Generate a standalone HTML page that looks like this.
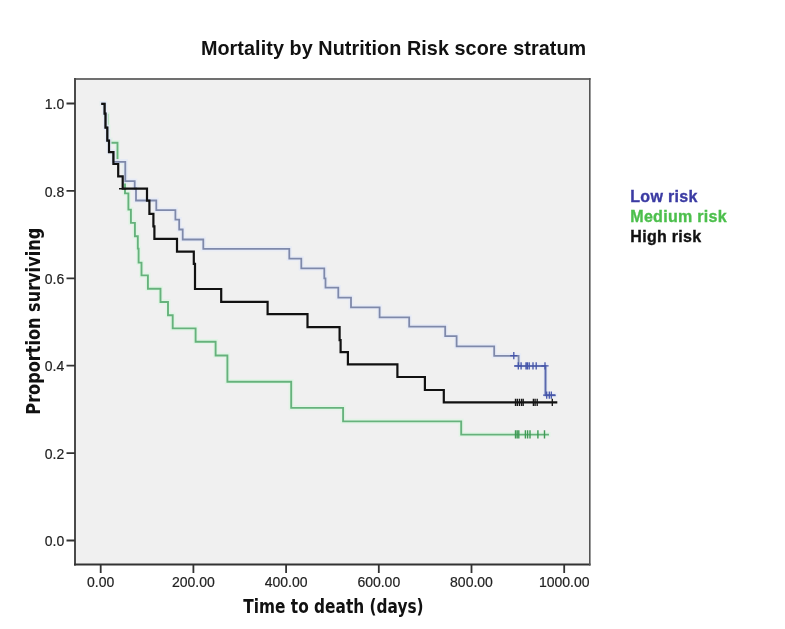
<!DOCTYPE html>
<html><head><meta charset="utf-8"><title>Mortality by Nutrition Risk score stratum</title>
<style>
html,body{margin:0;padding:0;background:#fff;width:785px;height:629px;overflow:hidden}
svg{display:block;filter:blur(0.3px)}
.ax{font-family:"Liberation Sans",Arial,sans-serif;font-size:14px;fill:#222;stroke:#222;stroke-width:0.2px}
.ttl{font-family:"Liberation Sans",Arial,sans-serif;font-size:19.8px;font-weight:bold;fill:#111}
.atl{font-family:"DejaVu Sans",Verdana,sans-serif;font-size:18.8px;font-weight:bold;fill:#111}
.lg{font-family:"Liberation Sans",Arial,sans-serif;font-size:16px;font-weight:bold;letter-spacing:0.3px;stroke-width:0.35px}
</style></head><body>
<svg width="785" height="629" viewBox="0 0 785 629">
<rect x="0" y="0" width="785" height="629" fill="#fff"/>
<rect x="75" y="79" width="515" height="485.5" fill="#f0f0f0"/>
<path d="M74,79H590.5" stroke="#707070" stroke-width="2" fill="none"/>
<path d="M75,78V565.5" stroke="#4a4a4a" stroke-width="2" fill="none"/>
<path d="M74,564.5H590.5" stroke="#333" stroke-width="2" fill="none"/>
<path d="M589.8,78V565.5" stroke="#555" stroke-width="1.6" fill="none"/>
<path d="M66.5,103.5H75 M66.5,190.9H75 M66.5,278.3H75 M66.5,365.7H75 M66.5,453.1H75 M66.5,540.5H75" stroke="#333" stroke-width="1.8" fill="none"/>
<path d="M100.7,564.5V573 M193.4,564.5V573 M286.1,564.5V573 M378.8,564.5V573 M471.5,564.5V573 M564.2,564.5V573" stroke="#333" stroke-width="1.8" fill="none"/>
<g class="ax">
<text x="64.3" y="109.1" text-anchor="end">1.0</text>
<text x="64.3" y="196.5" text-anchor="end">0.8</text>
<text x="64.3" y="283.9" text-anchor="end">0.6</text>
<text x="64.3" y="371.3" text-anchor="end">0.4</text>
<text x="64.3" y="458.7" text-anchor="end">0.2</text>
<text x="64.3" y="546.1" text-anchor="end">0.0</text>
<text x="100.7" y="587.4" text-anchor="middle">0.00</text>
<text x="193.4" y="587.4" text-anchor="middle">200.00</text>
<text x="286.1" y="587.4" text-anchor="middle">400.00</text>
<text x="378.8" y="587.4" text-anchor="middle">600.00</text>
<text x="471.5" y="587.4" text-anchor="middle">800.00</text>
<text x="564.2" y="587.4" text-anchor="middle">1000.00</text>
</g>
<g fill="none" stroke-linejoin="miter" stroke-linecap="square">
<path d="M102.3,103.4H104.6V114.5H107.4V127.3H108V140.3H110.2V142.6H117.5V162H125V193.2H128.4V209.4H130.9V222.7H134.9V236H137.8V248.4H138.6V262.4H141.5V275.2H147.9V288.5H160.5V301.8H168V315.1H172.7V328.2H195.6V341.5H215.6V355.3H227.4V381.6H291.2V407.7H343.1V421.2H461.2V434.4H548" stroke="#e0f4e4" stroke-width="5" opacity="0.9"/>
<path d="M102.3,103.4H104.6V114.5H107.4V127.3H108V140.3H110.2V142.6H117.5V162H125V193.2H128.4V209.4H130.9V222.7H134.9V236H137.8V248.4H138.6V262.4H141.5V275.2H147.9V288.5H160.5V301.8H168V315.1H172.7V328.2H195.6V341.5H215.6V355.3H227.4V381.6H291.2V407.7H343.1V421.2H461.2V434.4H548" stroke="#66b27c" stroke-width="1.9" transform="translate(0 0.2)"/>
<path d="M515.5,430.2V438.6 M517.2,430.2V438.6 M518.8,430.2V438.6 M525.4,430.2V438.6 M527.6,430.2V438.6 M530,430.2V438.6 M537.9,430.2V438.6 M544.5,430.2V438.6" stroke="#3f9a55" stroke-width="1.4" stroke-linecap="butt"/>
<path d="M102.3,103.4H104.6V113.3H105.5V127.3H107.3V140.3H109V151.7H113.4V161.6H125.3V180.9H134.7V188.3H136V200.3H156.3V209.9H175.4V219.4H179.2V229.3H182.7V239.3H203.3V248.7H289.3V258.4H301.3V268.2H324.3V278.2H325.5V287.5H338.3V297.4H351V307.1H379.6V317.2H409.2V326.4H445.2V335.9H456.6V346.2H494.2V355.7H518.6V365.8H545.5V395.1H554.8" stroke="#e6eaf6" stroke-width="5" opacity="0.9"/>
<path d="M102.3,103.4H104.6V113.3H105.5V127.3H107.3V140.3H109V151.7H113.4V161.6H125.3V180.9H134.7V188.3H136V200.3H156.3V209.9H175.4V219.4H179.2V229.3H182.7V239.3H203.3V248.7H289.3V258.4H301.3V268.2H324.3V278.2H325.5V287.5H338.3V297.4H351V307.1H379.6V317.2H409.2V326.4H445.2V335.9H456.6V346.2H494.2V355.7H518.6V365.8H545.5V395.1H554.8" stroke="#7f89aa" stroke-width="1.8" transform="translate(0 0.2)"/>
<path d="M514.8,365.8H545.5V395.1H554.8" stroke="#5a68b0" stroke-width="1.5" transform="translate(0 0.2)"/>
<path d="M513.8,352.1V359.3 M518.3,362.2V369.4 M521.1,362.2V369.4 M526,362.2V369.4 M527.4,362.2V369.4 M529.2,362.2V369.4 M533,362.2V369.4 M536.2,362.2V369.4 M545,362.2V369.4 M546.7,391.5V398.7 M549.3,391.5V398.7 M551.3,391.5V398.7 M510.2,355.7H517.4 M514.7,365.8H521.9 M541.4,365.8H548.6 M543.1,395.1H550.3 M547.7,395.1H554.9" stroke="#4555aa" stroke-width="1.3" stroke-linecap="butt"/>
<path d="M102.3,103.4H104.6V113.3H105.5V127.3H107.3V140.3H109V151.7H113.4V163.6H118.2V176H122.7V188.3H147V200.3H149.4V213.4H153.4V226H154.4V238.5H177V251.3H193.8V263.5H195V288.6H221.2V301.4H267.6V313.8H307.5V326.8H339.6V339.8H340.6V351.7H347.9V364H397.4V376.6H424.9V389.6H443.8V401.9H556.2" stroke="#111" stroke-width="2.2" transform="translate(0 0.4)"/>
<path d="M515.5,398.3V405.5 M517.3,398.3V405.5 M519.4,398.3V405.5 M521.5,398.3V405.5 M523.2,398.3V405.5 M533.4,398.3V405.5 M535.1,398.3V405.5 M537.2,398.3V405.5 M552.3,398.3V405.5 M119.0,188.3H126.2" stroke="#151515" stroke-width="1.35" stroke-linecap="butt" transform="translate(0 0.4)"/>
</g>
<text class="ttl" x="200.9" y="54.7" letter-spacing="0.07">Mortality by Nutrition Risk score stratum</text>
<text class="atl" x="333.6" y="612.6" text-anchor="middle" transform="translate(332.9 0) scale(0.818 1) translate(-332.9 0)">Time to death (days)</text>
<text class="atl" text-anchor="middle" transform="translate(39.5 321.25) rotate(-90) scale(0.858 1)">Proportion surviving</text>
<g class="lg">
<text x="630.3" y="202" fill="#3b3ba3" stroke="#3b3ba3">Low risk</text>
<text x="630.3" y="221.8" fill="#4cbf4c" stroke="#4cbf4c">Medium risk</text>
<text x="630.3" y="242.2" fill="#111" stroke="#111">High risk</text>
</g>
</svg>
</body></html>
